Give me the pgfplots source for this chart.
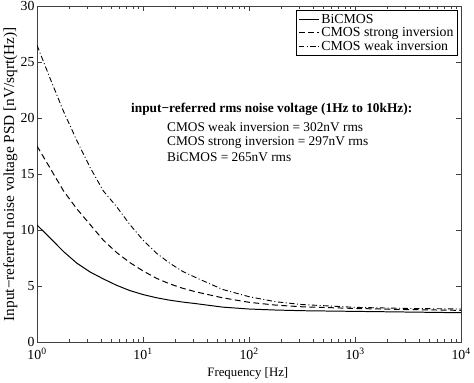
\documentclass[border=0pt]{standalone}
\usepackage{fontspec}
\setmainfont{Liberation Serif}
\usepackage{pgfplots}
\pgfplotsset{compat=1.18}
\begin{document}
\begin{tikzpicture}
\begin{axis}[
  scale only axis,
  width=428bp, height=339bp,
  xmode=log,
  xmin=1, xmax=10000,
  ymin=0, ymax=30,
  ytick={0,5,10,15,20,25,30},
  xtick={1,10,100,1000,10000},
  xticklabels={10\textsuperscript{0},10\textsuperscript{1},10\textsuperscript{2},10\textsuperscript{3},10\textsuperscript{4}},
  /pgf/number format/assume math mode=true,
  tick align=inside,
  major tick length=5pt,
  minor tick length=3pt,
  axis line style={line width=0.9pt, black!75},
  tick style={black!75, line width=0.6pt},
  ticklabel style={font=\fontsize{14}{15}\selectfont},
  yticklabel style={xshift=1pt, inner ysep=1.5pt},
  xticklabel style={yshift=-4pt, inner ysep=1.5pt},
  xlabel={Frequency [Hz]},
  ylabel={Input−referred noise voltage PSD [nV/sqrt(Hz)]},
  xlabel style={font=\fontsize{13}{14}\selectfont, at={(axis description cs:0.497,-0.092)}, anchor=center},
  ylabel style={font=\fontsize{15.5}{16}\selectfont, at={(axis description cs:-0.063,0.5)}, anchor=center},
  legend style={at={(0.992,0.988)}, anchor=north east, draw=black, line width=0.6pt,
    font=\fontsize{14}{14}\selectfont, inner sep=2pt, row sep=-1.5pt, cells={anchor=west}},
  legend image post style={xscale=1.2},
  clip=true,
]
\addplot[black, line width=1pt] coordinates {
(1,10.45) (1.334,9.28) (1.778,8.08) (2.371,7.05) (3.162,6.26) (4.217,5.64) (5.623,5.07)
(7.499,4.6) (10,4.24) (13.34,3.96) (17.78,3.74) (23.71,3.57) (31.62,3.43)
(56.23,3.12) (100,2.95) (177.8,2.86) (316.2,2.8) (1000,2.74) (3162,2.68) (10000,2.62)};
\addlegendentry{BiCMOS}
\addplot[black, line width=1pt, dash pattern=on 6pt off 3.5pt] coordinates {
(1,17.5) (1.334,15.5) (1.778,13.5) (2.371,11.9) (3.162,10.5) (4.217,9.1) (5.623,8.0)
(7.499,7.1) (10,6.35) (13.34,5.7) (17.78,5.2) (23.71,4.8) (31.62,4.48)
(56.23,3.95) (100,3.55) (177.8,3.3) (316.2,3.15) (1000,3.0) (3162,2.9) (10000,2.83)};
\addlegendentry{CMOS strong inversion}
\addplot[black, line width=0.9pt, dash pattern=on 5.5pt off 2.5pt on 1pt off 2.5pt] coordinates {
(1,26.5) (1.334,23.5) (1.778,20.6) (2.371,18.0) (3.162,15.6) (4.217,13.5) (5.623,12.1)
(7.499,10.5) (10,9.1) (13.34,7.95) (17.78,7.05) (23.71,6.3) (31.62,5.75)
(56.23,4.7) (100,4.05) (177.8,3.6) (316.2,3.35) (1000,3.1) (3162,3.0) (10000,2.95)};
\addlegendentry{CMOS weak inversion}
\node[anchor=west, inner sep=0pt, font=\fontsize{13.5}{14}\selectfont\bfseries] at (axis cs:7.7,20.8) {input−referred rms noise voltage (1Hz to 10kHz):};
\node[anchor=west, inner sep=0pt, font=\fontsize{13.5}{14}\selectfont] at (axis cs:16.8,19.2) {CMOS weak inversion = 302nV rms};
\node[anchor=west, inner sep=0pt, font=\fontsize{13.5}{14}\selectfont] at (axis cs:16.8,17.85) {CMOS strong inversion = 297nV rms};
\node[anchor=west, inner sep=0pt, font=\fontsize{13.5}{14}\selectfont] at (axis cs:16.8,16.5) {BiCMOS = 265nV rms};
\end{axis}
\end{tikzpicture}
\end{document}
